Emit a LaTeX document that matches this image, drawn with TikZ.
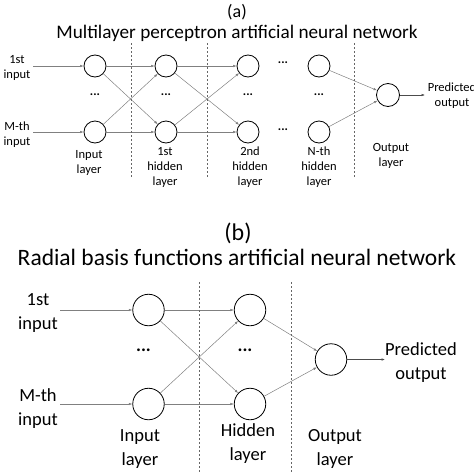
\documentclass[tikz,border=0pt]{standalone}
\usepackage{fontspec}
\setmainfont{Carlito}
\usetikzlibrary{arrows.meta}

\begin{document}
\begin{tikzpicture}[x=1pt,y=-1pt,
	neuron/.style={draw,circle,minimum size=22pt,inner sep=0pt,line width=0.8pt},
	bigneuron/.style={neuron,minimum size=31.5pt},
	link/.style={draw=black!50,line width=0.5pt,-{Latex[length=3.5pt,width=2.5pt]}},
	sep/.style={draw=black!60,dash pattern=on 2pt off 2pt,line width=0.6pt},
	smalltxt/.style={align=center,font=\fontsize{12.5}{15}\selectfont,inner sep=0pt},
	bigtxt/.style={align=center,font=\fontsize{18.5}{24}\selectfont,inner sep=0pt}]
	\useasboundingbox (0,0) rectangle (474,474);

	% (a) multilayer perceptron
	\node[inner sep=0pt,font=\fontsize{18}{20}\selectfont] (capa) at (237,12) {(a)};
	\node[inner sep=0pt,font=\fontsize{19.2}{22}\selectfont] (titlea) at (237,33) {Multilayer perceptron artificial neural network};
	\node[neuron] (i1) at (95,66) {};
	\node[neuron] (i2) at (95,132) {};
	\node[neuron] (ha1) at (166,66) {};
	\node[neuron] (ha2) at (166,132) {};
	\node[neuron] (hb1) at (248,66) {};
	\node[neuron] (hb2) at (248,132) {};
	\node[neuron] (hn1) at (319,66) {};
	\node[neuron] (hn2) at (319,132) {};
	\node[neuron,minimum size=23pt] (oa) at (388,95) {};
	\foreach \x in {95,166,248,319} \node[smalltxt] at (\x,95) {\textbf{...}};
	\node[smalltxt] (dt1) at (283,63) {\textbf{...}};
	\node[smalltxt] (dt2) at (283,130) {\textbf{...}};
	\node[smalltxt] (ina) at (17,67.5) {1st\\input};
	\node[smalltxt] (inb) at (17,134.5) {M-th\\input};
	\coordinate (sa) at (33,66);
	\coordinate (sb) at (33,132);
	\draw[link] (sa) -- (i1);
	\draw[link] (sb) -- (i2);
	\foreach \a/\b in {i/ha,ha/hb} {
		\draw[link] (\a1) -- (\b1);
		\draw[link] (\a1) -- (\b2);
		\draw[link] (\a2) -- (\b1);
		\draw[link] (\a2) -- (\b2);
	}
	\draw[link] (hn1) -- (oa);
	\draw[link] (hn2) -- (oa);
	\coordinate (ea) at (425,95);
	\draw[link,draw=black!70] (oa) -- (ea);
	\node[smalltxt] (pa) at (452,95.5) {Predicted\\output};
	\draw[sep] (131,43) -- (131,177);
	\draw[sep] (207,43) -- (207,177);
	\draw[sep] (354,43) -- (354,177);
	\node[smalltxt] (la) at (89,162.5) {Input\\layer};
	\node[smalltxt] (lb) at (165,167) {1st\\hidden\\layer};
	\node[smalltxt] (lc) at (250,167) {2nd\\hidden\\layer};
	\node[smalltxt] (ld) at (319,167) {N-th\\hidden\\layer};
	\node[smalltxt] (le) at (391,156) {Output\\layer};

	% (b) radial basis functions
	\node[inner sep=0pt,font=\fontsize{24}{26}\selectfont] (capb) at (238,233) {(b)};
	\node[inner sep=0pt,font=\fontsize{23.5}{26}\selectfont] (titleb) at (237,257) {Radial basis functions artificial neural network};
	\node[bigneuron] (r1) at (148.5,310) {};
	\node[bigneuron] (r2) at (148.5,404) {};
	\node[bigneuron] (q1) at (250,310) {};
	\node[bigneuron] (q2) at (250,404) {};
	\node[bigneuron] (ob) at (331,359.5) {};
	\node[bigtxt] (dt3) at (143.5,350) {\textbf{...}};
	\node[bigtxt] (dt4) at (245,350) {\textbf{...}};
	\node[bigtxt] (inc) at (38,313.5) {1st\\input};
	\node[bigtxt] (ind) at (38,408.5) {M-th\\input};
	\coordinate (sc) at (60,310);
	\coordinate (sd) at (60,404);
	\draw[link] (sc) -- (r1);
	\draw[link] (sd) -- (r2);
	\draw[link] (r1) -- (q1);
	\draw[link] (r1) -- (q2);
	\draw[link] (r2) -- (q1);
	\draw[link] (r2) -- (q2);
	\draw[link] (q1) -- (ob);
	\draw[link] (q2) -- (ob);
	\coordinate (eb) at (385,359.5);
	\draw[link,draw=black!70] (ob) -- (eb);
	\node[bigtxt] (pb) at (421,363) {Predicted\\output};
	\draw[sep] (199,282) -- (199,474);
	\draw[sep] (291,282) -- (291,474);
	\node[bigtxt] (lf) at (140,449) {Input\\layer};
	\node[bigtxt] (lg) at (248,443.5) {Hidden\\layer};
	\node[bigtxt] (lh) at (335,449) {Output\\layer};
\end{tikzpicture}
\end{document}
